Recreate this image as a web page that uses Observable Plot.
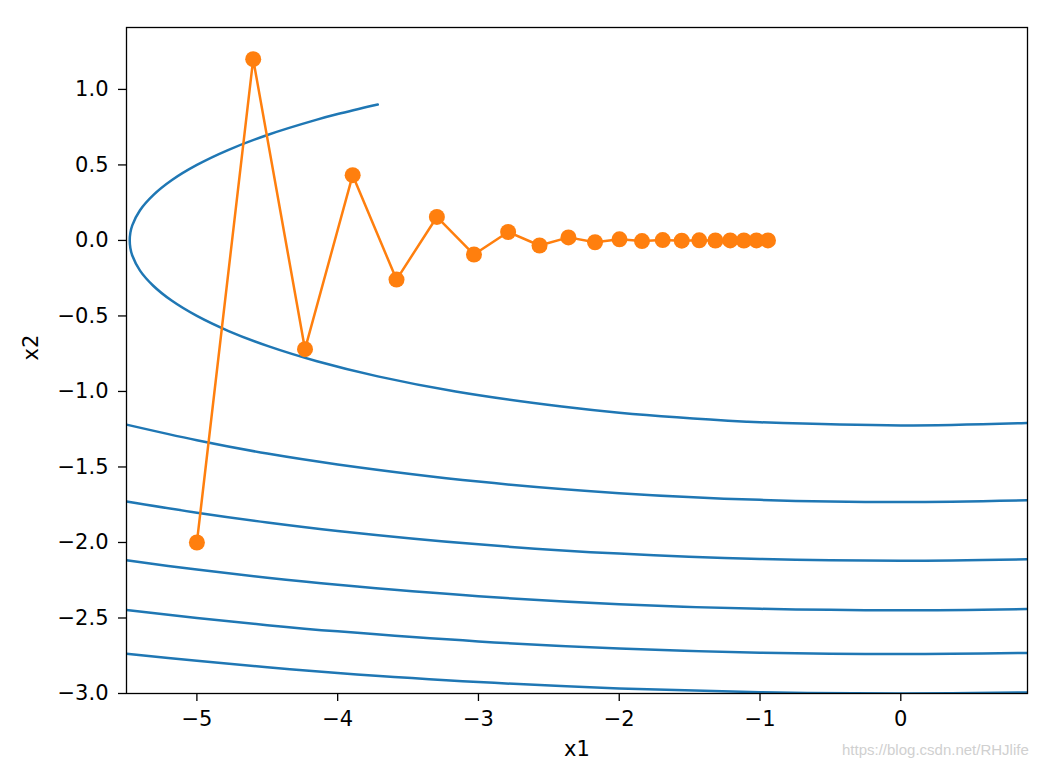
<!DOCTYPE html>
<html>
<head>
<meta charset="utf-8">
<script src="https://cdn.jsdelivr.net/npm/d3@7"></script>
<script src="https://cdn.jsdelivr.net/npm/@observablehq/plot@0.6"></script>
<style>
  body { margin: 0; background: #fff; }
  #wrap { position: relative; width: 1048px; height: 774px; }
  #wm { position: absolute; left: 842px; top: 741px; font: 15px "Liberation Sans", Arial, sans-serif; color: #d0d0d0; }
</style>
</head>
<body>
<div id="wrap"><div id="chart"></div><div id="wm">https://blog.csdn.net/RHJlife</div></div>
<script>
// Gradient-descent trajectory (x1, x2)
const trajX1 = [-5, -4.6, -4.232, -3.8934, -3.582, -3.2954, -3.0318, -2.7892, -2.5661, -2.3608, -2.1719,
                -1.9982, -1.8383, -1.6913, -1.556, -1.4315, -1.317, -1.2116, -1.1147, -1.0255, -0.9435];
const trajX2 = [-2, 1.2, -0.72, 0.432, -0.2592, 0.1555, -0.0933, 0.056, -0.0336, 0.0202, -0.0121,
                0.0073, -0.0044, 0.0026, -0.0016, 0.0009, -0.0006, 0.0003, -0.0002, 0.0001, -0.0001];

// Contour level 3 (closed arc around the tip)
const c3X1 = [-3.715, -4.0, -4.147, -4.494, -4.775, -5.0, -5.177, -5.31, -5.404, -5.459, -5.4727, -5.477,
              -5.4727, -5.459, -5.404, -5.31, -5.177, -5.0, -4.775, -4.494, -4.147, -3.715, -3.162, -2.408,
              -2.0, -1.095, -1.0, 0, 0.9];
const c3X2 = [0.9, 0.8367, 0.8, 0.7, 0.6, 0.5, 0.4, 0.3, 0.2, 0.1, 0.05, 0,
              -0.05, -0.1, -0.2, -0.3, -0.4, -0.5, -0.6, -0.7, -0.8, -0.9, -1.0, -1.1,
              -1.1402, -1.2, -1.2042, -1.2247, -1.2081];

// Lower contour branches (levels 6, 9, 12, 15, 18)
const branchX1 = [-5.5, -5, -4.5, -4, -3, -2, -1, 0, 0.9];
const c6X2  = [-1.2196, -1.3229, -1.4114, -1.4832, -1.5969, -1.6733, -1.7176, -1.7321, -1.7203];
const c9X2  = [-1.7285, -1.8028, -1.8675, -1.9235, -2.0125, -2.0736, -2.1095, -2.1213, -2.1118];
const c12X2 = [-2.1184, -2.1794, -2.2337, -2.2804, -2.3558, -2.4083, -2.4393, -2.4495, -2.4412];
const c15X2 = [-2.4469, -2.5, -2.5473, -2.5884, -2.6552, -2.7019, -2.7295, -2.7386, -2.7312];
const c18X2 = [-2.7363, -2.7839, -2.8262, -2.8636, -2.924, -2.9665, -2.9917, -3.0, -2.9932];

const xTicks = [-5, -4, -3, -2, -1, 0];
const yTicks = [-3.0, -2.5, -2.0, -1.5, -1.0, -0.5, 0.0, 0.5, 1.0];

const traj = trajX1.map((x, i) => ({x1: x, x2: trajX2[i]}));
const c3 = c3X1.map((x, i) => ({x1: x, x2: c3X2[i], lvl: 3}));
const branches = [[6, c6X2], [9, c9X2], [12, c12X2], [15, c15X2], [18, c18X2]]
  .flatMap(([lvl, arr]) => branchX1.map((x, i) => ({x1: x, x2: arr[i], lvl})));

const minus = v => String(v).replace("-", "\u2212");
const blue = "#1f77b4", orange = "#ff7f0e";
const FS = 21;

const chart = Plot.plot({
  width: 1048,
  height: 774,
  marginLeft: 126,
  marginRight: 21,
  marginTop: 27,
  marginBottom: 81,
  style: {fontFamily: "'DejaVu Sans', sans-serif", fontSize: FS + "px", color: "#000", background: "#fff"},
  x: {domain: [-5.5, 0.9]},
  y: {domain: [-3.0, 1.41]},
  marks: [
    Plot.line(c3, {x: "x1", y: "x2", stroke: blue, strokeWidth: 2.5, curve: "catmull-rom", clip: true}),
    Plot.line(branches, {x: "x1", y: "x2", z: "lvl", stroke: blue, strokeWidth: 2.5, curve: "catmull-rom", clip: true}),
    Plot.line(traj, {x: "x1", y: "x2", stroke: orange, strokeWidth: 2.5}),
    Plot.dot(traj, {x: "x1", y: "x2", fill: orange, r: 8}),
    Plot.frame({stroke: "#000", strokeWidth: 1.3}),
    Plot.axisX({ticks: xTicks, tickFormat: minus, tickSize: 8, tickPadding: 10, fontSize: FS, label: null, stroke: "#000", strokeWidth: 1.3}),
    Plot.axisY({ticks: yTicks, tickFormat: v => minus(v.toFixed(1)), tickSize: 8, tickPadding: 10, fontSize: FS, label: null, stroke: "#000", strokeWidth: 1.3}),
    Plot.text(["x1"], {frameAnchor: "bottom", dy: 62, text: d => d, fontSize: FS}),
    Plot.text(["x2"], {frameAnchor: "left", dx: -95, rotate: -90, text: d => d, fontSize: FS})
  ]
});
document.getElementById("chart").appendChild(chart);
</script>
</body>
</html>
